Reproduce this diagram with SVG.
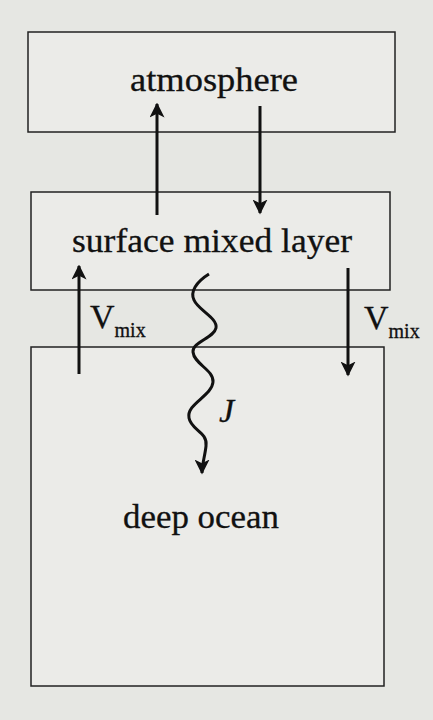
<svg xmlns="http://www.w3.org/2000/svg" width="433" height="720" viewBox="0 0 433 720">
<style>
.box{fill:#ebebe8;stroke:#222;stroke-width:1.5}
.lbl{font-family:"Liberation Serif","Times New Roman",serif;fill:#111;font-size:34px;stroke:#111;stroke-width:0.3}
.arr{stroke:#111;stroke-width:3;fill:none}
</style>
<defs>
<marker id="ah" viewBox="0 0 10 10" refX="9" refY="5" markerWidth="5" markerHeight="5" orient="auto" markerUnits="strokeWidth">
<path d="M0,0 L10,5 L0,10 L2.5,5 Z" fill="#111"/>
</marker>
</defs>
<rect width="433" height="720" fill="#e6e7e3"/>
<g id="atmosphere">
<rect class="box" x="28" y="32" width="367" height="100"/>
<text class="lbl" x="214" y="91" text-anchor="middle" textLength="168" lengthAdjust="spacingAndGlyphs">atmosphere</text>
</g>
<g id="surface">
<rect class="box" x="31" y="192" width="359" height="98"/>
<text class="lbl" x="212" y="252" text-anchor="middle" textLength="280" lengthAdjust="spacingAndGlyphs">surface mixed layer</text>
</g>
<g id="deep">
<rect class="box" x="31" y="347" width="353" height="339"/>
<text class="lbl" x="201" y="528" text-anchor="middle" textLength="156" lengthAdjust="spacingAndGlyphs">deep ocean</text>
</g>
<g id="connectors">
<line class="arr" x1="157" y1="215" x2="157" y2="104" marker-end="url(#ah)"/>
<line class="arr" x1="260" y1="106" x2="260" y2="213" marker-end="url(#ah)"/>
<line class="arr" x1="79" y1="374" x2="79" y2="266" marker-end="url(#ah)"/>
<line class="arr" x1="348" y1="268" x2="348" y2="375" marker-end="url(#ah)"/>
<path class="arr" d="M209,274 C196,282 190,292 194,300 C198,310 218,318 216,328 C214,338 192,342 193,352 C194,364 214,370 213,382 C212,396 186,404 189,418 C191,430 208,432 206,446 C205,456 202,464 202,473" marker-end="url(#ah)"/>
<text class="lbl" x="90" y="328" font-size="21">V<tspan font-size="20" dy="9">mix</tspan></text>
<text class="lbl" x="364" y="329" font-size="21">V<tspan font-size="20" dy="9">mix</tspan></text>
<text class="lbl" x="219" y="422" font-size="30" font-style="italic">J</text>
</g>
</svg>
